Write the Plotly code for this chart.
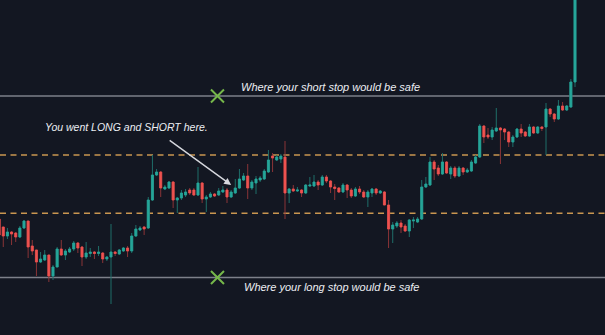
import plotly.graph_objects as go

# ---- data (price units) ----
bar_index = list(range(140))
open_ = [116,108,99,103,102,98,107,114,89,85,73,75,80,59,68,86,80,83,86,92,
         88,78,81.5,83,81.5,82,76,78,83,81,84,87,84,99,105,108,107,135,160,163,
         146,147,153,135,137,140,145,145,140,152,136,138,141,140,143,145,138,142,147,155,
         159,147,152,155,156,163,179,175,176,178,142,146,144,145,142,149,149,153,150,158,
         154,148,147,143,150,145,139,146,143,138,142,146,142,143,130,106,109,112,109,104,
         114,113,116,148,150,173,167,161,173,161,167,159,167,163,164,172,178,209,200,198,
         204,207,206,203,193,198,206,203,199,208,202,208,208,226,221,216,229,225,228,253]
close = [100,99,103,101,98,107,114,88,84,73,76,80,59,68,86,80,84,86,92,87,
         78,82,83,81.5,83,76,78,83,81.5,85,87,84,99,106,107,106,135,160,163,147,
         148,153,135,137,142,143,142,140,152,136,138,141,139,144,145,138,143,147,156,159,
         147,153,156,157,164,175,177,178,179,142,146,144,145,142,150,150,153,150,158,154,
         148,146.5,143,150,145,139,146,143,138,143,146,142,144,130,106,110,112,108,104,115,
         115,116,148,151,173,166,161,173,162,167,159,167,163,165,173,178,209,198,198,205,
         207,205,203,193,198,206,202,199,208,202,208,206.5,226,221,216,229,225,229,253,345]
high = [117,108,107,104,103,109,115,114,95,85,83,85,80,70,88,95,86,88,94,93,
        89,93,87,84,89,83,79,111,84,86,88,89,102,110,109,109,138,180,166,164,
        150,154,154,138,145,146,147,147,168,153,140,143,142,147,149,147,145,156,166,162,
        171,155,159,159,166,185,182,180,181,194,147,150,148,146,151,158,160,155,160,160,
        155,151,148,152,151,147,148,149,145,145,147,147,145,144,135,113,114,115,111,116,
        118,118,155,158,178,175,170,182,174,169,169,169,168,167,175,180,211,210,207,208,
        227,208,207,204,200,207,211,204,211,209,209,209,232,227,222,235,233,230,256,350]
low = [99,88,96,90,93,97,106,77,80,59,72,74,53,55,68,79,75,82,84,82,
       69,76,78,76,79,72,74,31,79,80,83,78,82,98,104,100,106,134,159,138,
       145,146,127,122,135,138,140,139,139,132,123,137,138,139,142,132,137,141,146,154,
       136,145,141,153,155,162,163,174,172,116,132,143,143,138,141,148,148,145,149,152,
       142,135,142,142,137,137,138,141,137,128,138,140,141,130,87,92,107,102,103,98,
       107,112,115,147,149,155,159,160,161,156,157,158,160,162,163,171,177,192,196,195,
       203,171,195,188,188,197,198,198,198,201,201,204,180,218,213,215,224,224,227,248]

# ---- reference levels ----
short_stop_level = 239
long_stop_level = 57.5
range_top = 180
range_bottom = 121.7
marker_bar = 52.7
arrow_from = (40.8, 195.7)
arrow_to = (56.0, 150.0)

BG = "#131722"
UP = "#26a69a"
DOWN = "#ef5350"
UP_WICK = "#1f6e69"
DOWN_WICK = "#8a3437"
TXT = "#eceef3"

body_high = [max(o, c) for o, c in zip(open_, close)]
body_low = [min(o, c) for o, c in zip(open_, close)]

fig = go.Figure()
fig.add_trace(go.Candlestick(
    x=bar_index, open=open_, high=high, low=low, close=close,
    increasing=dict(line=dict(color=UP_WICK, width=1), fillcolor=UP_WICK),
    decreasing=dict(line=dict(color=DOWN_WICK, width=1), fillcolor=DOWN_WICK),
    hoverinfo="skip", showlegend=False,
))
fig.add_trace(go.Candlestick(
    x=bar_index, open=open_, high=body_high, low=body_low, close=close,
    increasing=dict(line=dict(color=UP, width=0.6), fillcolor=UP),
    decreasing=dict(line=dict(color=DOWN, width=0.6), fillcolor=DOWN),
    hoverinfo="skip", showlegend=False,
))

for lvl in (short_stop_level, long_stop_level):
    fig.add_shape(type="line", xref="paper", x0=0, x1=1, y0=lvl, y1=lvl,
                  line=dict(color="#7d808a", width=1.3), layer="below")
for lvl in (range_top, range_bottom):
    fig.add_shape(type="line", xref="paper", x0=0, x1=1, y0=lvl, y1=lvl,
                  line=dict(color="#c99650", width=1.5, dash="6px,4.5px"), layer="below")

fig.add_trace(go.Scatter(
    x=[marker_bar, marker_bar], y=[short_stop_level, long_stop_level], mode="markers",
    marker=dict(symbol="x-thin", size=13, line=dict(color="#76b84a", width=2)),
    hoverinfo="skip", showlegend=False,
))

font = dict(family="Liberation Sans", size=11, color=TXT, style="italic")
font_small = dict(family="Liberation Sans", size=10.5, color=TXT, style="italic")
fig.add_annotation(x=57.9, y=247.7, text="Where your short stop would be safe",
                   showarrow=False, xanchor="left", yanchor="middle", font=font)
fig.add_annotation(x=58.7, y=48.3, text="Where your long stop would be safe",
                   showarrow=False, xanchor="left", yanchor="middle", font=font)
fig.add_annotation(x=10.5, y=208.3, text="You went LONG and SHORT here.",
                   showarrow=False, xanchor="left", yanchor="middle", font=font_small)
fig.add_annotation(x=arrow_to[0], y=arrow_to[1], ax=arrow_from[0], ay=arrow_from[1],
                   axref="x", ayref="y", text="", showarrow=True,
                   arrowhead=2, arrowsize=1, arrowwidth=1.4, arrowcolor="#d6d8de")

fig.update_layout(
    width=605, height=335, margin=dict(l=0, r=0, t=0, b=0),
    paper_bgcolor=BG, plot_bgcolor=BG,
    xaxis=dict(visible=False, range=[0.2076, 146.24], rangeslider=dict(visible=False)),
    yaxis=dict(visible=False, range=[0, 335]),
    showlegend=False,
)
fig.write_html("out.html")
